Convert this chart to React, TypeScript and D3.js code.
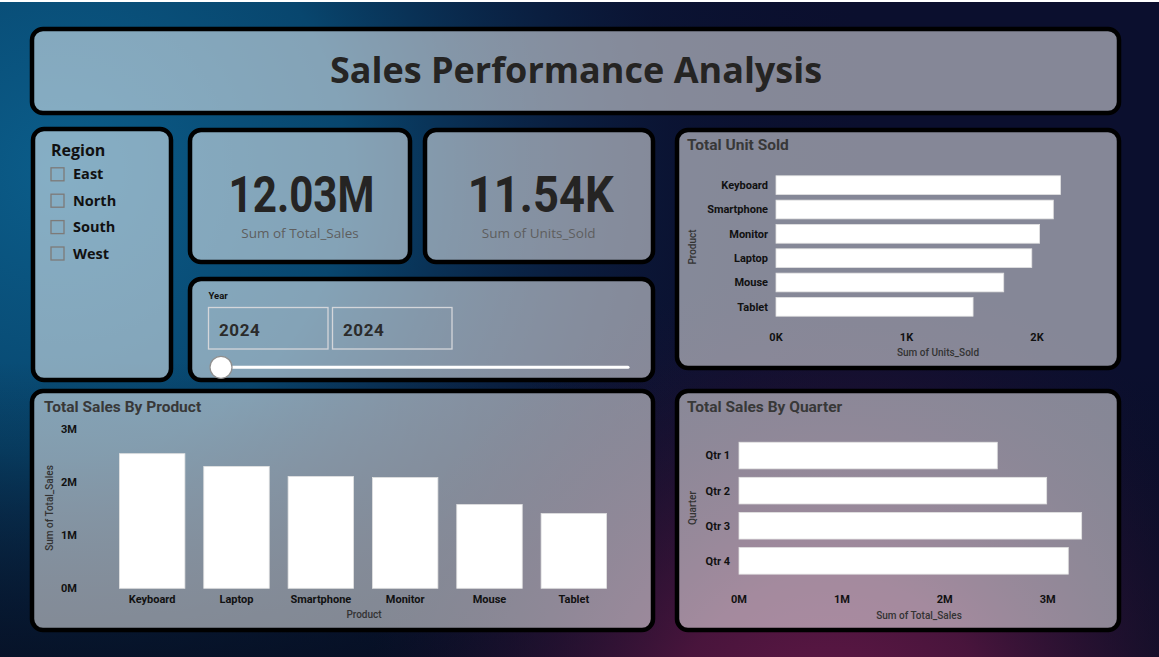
import * as d3 from 'd3'

const W = 1159
const H = 657

// dashboard text
const DASH_TITLE = 'Sales Performance Analysis'
const REGIONS = ['East', 'North', 'South', 'West']
const KPI_VALUES = ['12.03M', '11.54K']
const KPI_LABELS = ['Sum of Total_Sales', 'Sum of Units_Sold']
const YEAR_RANGE = ['2024', '2024']

// Total Unit Sold (horizontal bars)
const UNIT_PRODUCTS = ['Keyboard', 'Smartphone', 'Monitor', 'Laptop', 'Mouse', 'Tablet']
const UNITS_SOLD = [2180, 2125, 2020, 1960, 1745, 1510]
const UNIT_TICKS = [0, 1000, 2000]

// Total Sales By Product (columns)
const SALES_PRODUCTS = ['Keyboard', 'Laptop', 'Smartphone', 'Monitor', 'Mouse', 'Tablet']
const PRODUCT_SALES = [2540000, 2300000, 2110000, 2090000, 1580000, 1410000]
const SALES_TICKS = [0, 1000000, 2000000, 3000000]

// Total Sales By Quarter (horizontal bars)
const QUARTERS = ['Qtr 1', 'Qtr 2', 'Qtr 3', 'Qtr 4']
const QUARTER_SALES = [2510000, 2990000, 3330000, 3200000]

const DIN = 'Roboto, "Noto Sans", sans-serif'
const SEGOE = '"Open Sans", "Noto Sans", sans-serif'
const DARK = '#252423'

const fmtK = (v: number) => `${v / 1000}K`
const fmtM = (v: number) => `${v / 1e6}M`

function Panel({ x, y, w, h }: { x: number; y: number; w: number; h: number }) {
  return (
    <rect x={x} y={y} width={w} height={h} rx={11} ry={11}
      fill="#ffffff" fillOpacity={0.5} stroke="#000" strokeWidth={4.5} />
  )
}

const titleStyle = { fontFamily: DIN, fontWeight: 700, fontSize: 15.5, fill: '#383838' }
const tickStyle = { fontFamily: DIN, fontWeight: 700, fontSize: 11, fill: '#111' }
const axisTitleStyle = { fontFamily: DIN, fontWeight: 500, fontSize: 10, fill: '#333' }

function UnitsChart() {
  const x = d3.scaleLinear().domain([0, 2000]).range([776, 1037])
  const y = d3.scaleBand<string>().domain(UNIT_PRODUCTS).range([173, 319])
    .paddingInner(0.23).paddingOuter(0.115)
  return (
    <g>
      <text x={687} y={150} {...titleStyle}>Total Unit Sold</text>
      {UNIT_PRODUCTS.map((p, i) => (
        <g key={p}>
          <rect x={x(0)} y={y(p)} width={x(UNITS_SOLD[i]) - x(0)} height={y.bandwidth()}
            fill="#fff" stroke="#e2e2e2" strokeWidth={0.8} />
          <text x={768} y={(y(p) ?? 0) + y.bandwidth() / 2} dy="0.35em" textAnchor="end" {...tickStyle}>{p}</text>
        </g>
      ))}
      {UNIT_TICKS.map(t => (
        <text key={t} x={x(t)} y={337} dy="0.35em" textAnchor="middle" {...tickStyle}>{fmtK(t)}</text>
      ))}
      <text x={938} y={352} dy="0.35em" textAnchor="middle" {...axisTitleStyle}>Sum of Units_Sold</text>
      <text transform="translate(692,247) rotate(-90)" dy="0.35em" textAnchor="middle" {...axisTitleStyle}>Product</text>
    </g>
  )
}

function ProductChart() {
  const x = d3.scaleBand<string>().domain(SALES_PRODUCTS).range([110, 616])
    .paddingInner(0.224).paddingOuter(0.112)
  const y = d3.scaleLinear().domain([0, 3000000]).range([588.3, 429.3])
  return (
    <g>
      <text x={44} y={412} {...titleStyle}>Total Sales By Product</text>
      {SALES_TICKS.map(t => (
        <text key={t} x={77} y={y(t)} dy="0.35em" textAnchor="end" {...tickStyle}>{fmtM(t)}</text>
      ))}
      {SALES_PRODUCTS.map((p, i) => (
        <g key={p}>
          <rect x={x(p)} y={y(PRODUCT_SALES[i])} width={x.bandwidth()}
            height={y(0) - y(PRODUCT_SALES[i])} fill="#fff" stroke="#e2e2e2" strokeWidth={0.8} />
          <text x={(x(p) ?? 0) + x.bandwidth() / 2} y={599} dy="0.35em" textAnchor="middle" {...tickStyle}>{p}</text>
        </g>
      ))}
      <text x={364} y={614.5} dy="0.35em" textAnchor="middle" {...axisTitleStyle}>Product</text>
      <text transform="translate(49.5,508) rotate(-90)" dy="0.35em" textAnchor="middle" {...axisTitleStyle}>Sum of Total_Sales</text>
    </g>
  )
}

function QuarterChart() {
  const x = d3.scaleLinear().domain([0, 3000000]).range([739, 1047.7])
  const y = d3.scaleBand<string>().domain(QUARTERS).range([438, 578.4])
    .paddingInner(0.242).paddingOuter(0.121)
  return (
    <g>
      <text x={687} y={412} {...titleStyle}>Total Sales By Quarter</text>
      {QUARTERS.map((q, i) => (
        <g key={q}>
          <rect x={x(0)} y={y(q)} width={x(QUARTER_SALES[i]) - x(0)} height={y.bandwidth()}
            fill="#fff" stroke="#e2e2e2" strokeWidth={0.8} />
          <text x={730} y={(y(q) ?? 0) + y.bandwidth() / 2} dy="0.35em" textAnchor="end" {...tickStyle}>{q}</text>
        </g>
      ))}
      {SALES_TICKS.map(t => (
        <text key={t} x={x(t)} y={599} dy="0.35em" textAnchor="middle" {...tickStyle}>{fmtM(t)}</text>
      ))}
      <text x={919} y={615} dy="0.35em" textAnchor="middle" {...axisTitleStyle}>Sum of Total_Sales</text>
      <text transform="translate(692,508) rotate(-90)" dy="0.35em" textAnchor="middle" {...axisTitleStyle}>Quarter</text>
    </g>
  )
}

export default function App() {
  return (
    <svg width={W} height={H} style={{ position: 'absolute', left: 0, top: 0, display: 'block' }}>
      <defs>
        <radialGradient id="bg-teal" gradientUnits="userSpaceOnUse" cx={60} cy={170} r={820}>
          <stop offset="0%" stopColor="#0b5d8a" />
          <stop offset="35%" stopColor="#08466e" />
          <stop offset="75%" stopColor="#0a1a3a" stopOpacity={0.4} />
          <stop offset="100%" stopColor="#0a1030" stopOpacity={0} />
        </radialGradient>
        <radialGradient id="bg-maroon" gradientUnits="userSpaceOnUse" cx={830} cy={740} r={470}>
          <stop offset="0%" stopColor="#661848" />
          <stop offset="35%" stopColor="#4e153e" stopOpacity={0.92} />
          <stop offset="100%" stopColor="#1a0f30" stopOpacity={0} />
        </radialGradient>
        <linearGradient id="bg-fade" x1="0" y1="0" x2="0" y2="1">
          <stop offset="55%" stopColor="#050d1e" stopOpacity={0} />
          <stop offset="100%" stopColor="#050d1e" stopOpacity={0.7} />
        </linearGradient>
      </defs>

      {/* background */}
      <rect width={W} height={H} fill="#0b0f2e" />
      <rect width={W} height={H} fill="url(#bg-teal)" />
      <rect width={W} height={H} fill="url(#bg-fade)" />
      <rect width={W} height={H} fill="url(#bg-maroon)" />
      <rect width={W} height={2} fill="#fff" />

      {/* panels */}
      <Panel x={32} y={29} w={1087} h={84} />
      <Panel x={33} y={129} w={138} h={251} />
      <Panel x={190} y={130} w={220} h={132} />
      <Panel x={425} y={130} w={228} h={132} />
      <Panel x={190} y={279} w={463} h={101} />
      <Panel x={677} y={130} w={442} h={238} />
      <Panel x={32} y={391} w={621} h={239} />
      <Panel x={677} y={391} w={442} h={239} />

      {/* header */}
      <text x={576} y={83} textAnchor="middle" fontFamily={SEGOE} fontWeight={700}
        fontSize={36} fill={DARK}>{DASH_TITLE}</text>

      {/* region slicer */}
      <text x={51} y={156} fontFamily={SEGOE} fontWeight={700} fontSize={16} fill="#111">Region</text>
      {REGIONS.map((r, i) => (
        <g key={r} transform={`translate(0, ${174.3 + i * 26.4})`}>
          <rect x={51} y={-6.5} width={13} height={13} fill="none" stroke="#7d7a78" strokeWidth={1.3} />
          <text x={73} y={0} dy="0.35em" fontFamily={SEGOE} fontWeight={700} fontSize={14.5} fill="#111">{r}</text>
        </g>
      ))}

      {/* KPI cards */}
      {KPI_VALUES.map((v, i) => {
        const cx = i === 0 ? 301.5 : 540.8
        return (
          <g key={v}>
            <text x={cx} y={212} textAnchor="middle" fontFamily={DIN} fontWeight={700}
              fontSize={50} fill={DARK} textLength={146} lengthAdjust="spacingAndGlyphs">{v}</text>
            <text x={i === 0 ? 300 : 538.7} y={237.5} textAnchor="middle" fontFamily={SEGOE}
              fontWeight={400} fontSize={13.5} fill="#5e5e5e">{KPI_LABELS[i]}</text>
          </g>
        )
      })}

      {/* year slicer */}
      <text x={208.5} y={299} fontFamily={DIN} fontWeight={700} fontSize={9.5} fill="#111">Year</text>
      {YEAR_RANGE.map((yr, i) => {
        const bx = i === 0 ? 208.5 : 332.5
        return (
          <g key={i}>
            <rect x={bx} y={307.5} width={119.5} height={41.5} fill="none" stroke="#d4d6da" strokeWidth={1.3} />
            <text x={bx + 10.5} y={335.5} fontFamily={DIN} fontWeight={700} fontSize={17}
              letterSpacing={0.6} fill="#2b2b2b">{yr}</text>
          </g>
        )
      })}
      <line x1={221} x2={628} y1={367.3} y2={367.3} stroke="#fff" strokeWidth={3} strokeLinecap="round" />
      <circle cx={221} cy={367.3} r={11} fill="#fff" stroke="#8f8f8f" strokeWidth={1.2} />

      <UnitsChart />
      <ProductChart />
      <QuarterChart />
    </svg>
  )
}
